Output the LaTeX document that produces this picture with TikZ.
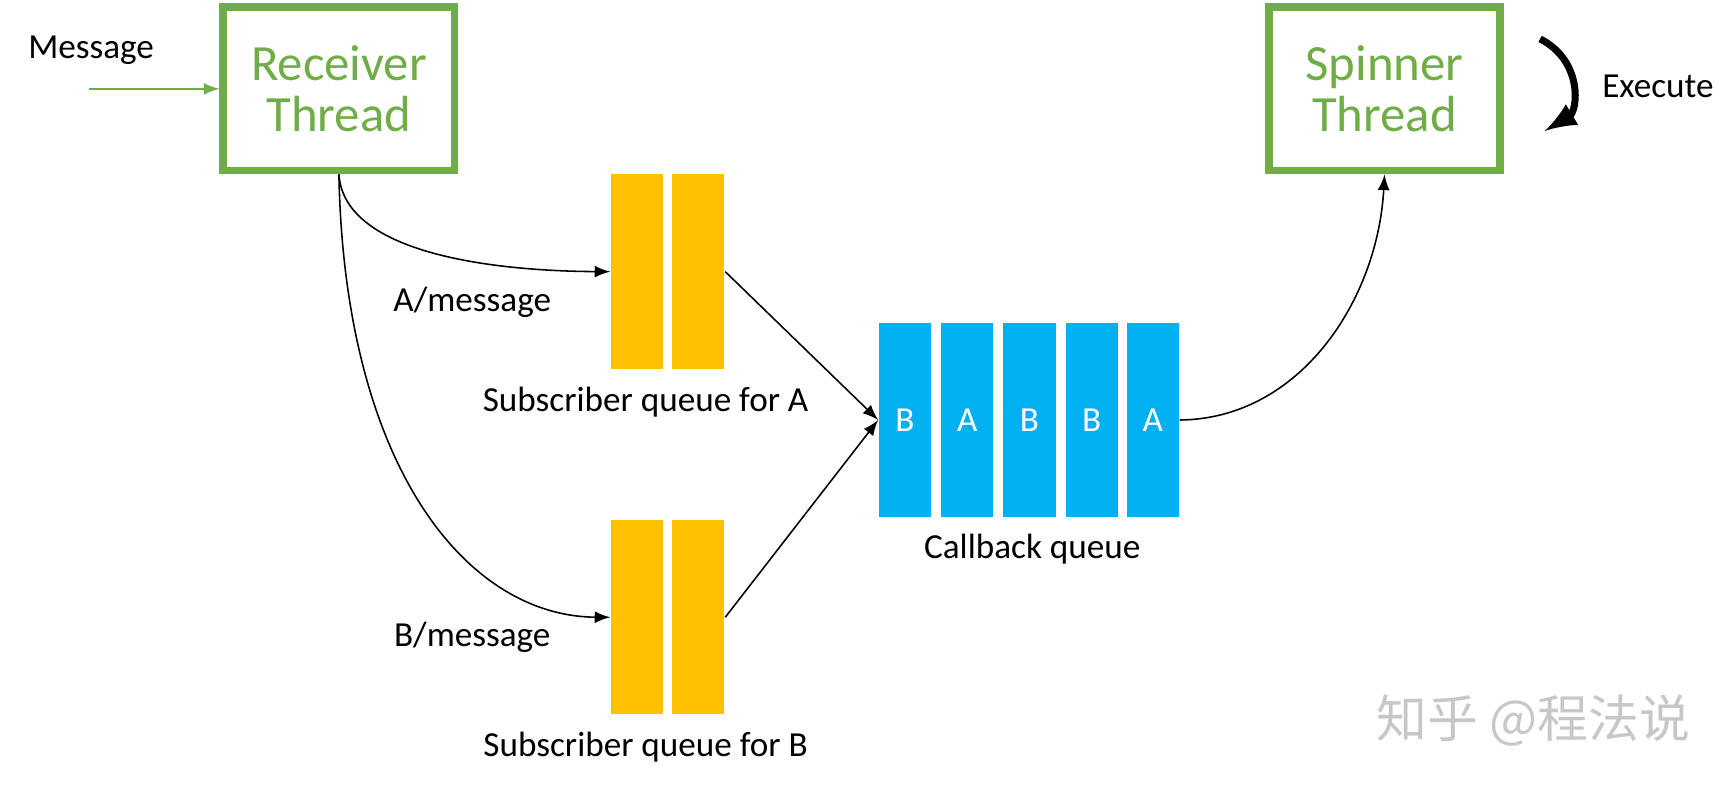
\documentclass[tikz,border=0pt]{standalone}
\usepackage{fontspec}
\setmainfont{Carlito}
\newfontfamily\cjk{Noto Sans CJK SC}
\definecolor{grn}{RGB}{112,173,71}
\definecolor{ylw}{RGB}{255,192,0}
\definecolor{blu}{RGB}{0,176,240}
\begin{document}
\begin{tikzpicture}[x=0.01cm,y=-0.01cm,
  thr/.style={draw=grn,line width=7*0.2845pt,minimum width=208*0.01cm,minimum height=147*0.01cm,text=grn,font=\fontsize{13}{13}\selectfont,align=center,inner sep=0},
  ybar/.style={fill=ylw,minimum width=47*0.01cm,minimum height=175*0.01cm,inner sep=0},
  bbar/.style={fill=blu,minimum width=47*0.01cm,minimum height=174*0.01cm,inner sep=0,text=white,font=\fontsize{9}{9}\selectfont},
  lbl/.style={font=\fontsize{9}{9}\selectfont},
  ar/.style={-latex,thin}]
\useasboundingbox (0,0) rectangle (1556,707);
\node[thr] (rt) at (305,80) {Receiver\\Thread};
\node[thr] (st) at (1246,80) {Spinner\\Thread};
\node[lbl] (msg) at (82,45) {Message};
\coordinate (ms) at (80,80);
\draw[grn,-latex,thin] (ms) -- (rt.west);
\node[lbl] (ex) at (1492,78) {Execute};
\coordinate (e1) at (1386,35);
\coordinate (e2) at (1390,118);
\draw[line width=1.8pt,-latex] (e1) .. controls (1425,55) and (1420,100) .. (e2);
\node[ybar] (a1) at (573.5,244.5) {};
\node[ybar] (a2) at (628.5,244.5) {};
\node[ybar] (b1) at (573.5,555.5) {};
\node[ybar] (b2) at (628.5,555.5) {};
\node[lbl] (al) at (425,272) {A/message};
\node[lbl] (bl) at (425,574) {B/message};
\node[lbl] (sa) at (581,362) {Subscriber queue for A};
\node[lbl] (sb) at (581,672) {Subscriber queue for B};
\foreach \i/\x/\t in {1/814.5/B,2/870.5/A,3/926.5/B,4/982.5/B,5/1037.5/A}
  \node[bbar] (c\i) at (\x,378) {\t};
\node[lbl] (cq) at (929,494) {Callback queue};
\draw[ar] (rt.south) .. controls (310,230) and (450,244) .. (a1.west);
\draw[ar] (rt.south) .. controls (310,420) and (420,555) .. (b1.west);
\draw[ar] (a2.east) -- (c1.west);
\draw[ar] (b2.east) -- (c1.west);
\draw[ar] (c5.east) .. controls (1170,377) and (1240,270) .. (st.south);
\node[font=\cjk\fontsize{13}{14}\selectfont,text=black!22] (wm) at (1380,648) {知乎 @程法说};
\end{tikzpicture}
\end{document}
